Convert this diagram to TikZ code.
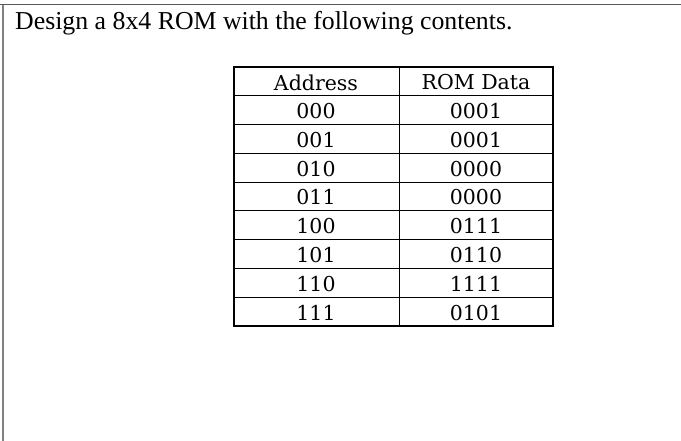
\documentclass[tikz,border=0pt]{standalone}
\usepackage{fontspec}
\setmainfont{Liberation Serif}
\newfontfamily\tabfont{DejaVu Serif}
\begin{document}
\begin{tikzpicture}[x=1pt,y=-1pt,
  cell/.style={font=\tabfont\fontsize{20.5}{20.5}\selectfont, anchor=center, inner sep=0pt},
  thick line/.style={line width=2pt},
  thin line/.style={line width=1pt}]
\useasboundingbox (0,0) rectangle (681,441);
\coordinate (tl) at (0,5);
\coordinate (tr) at (681,5);
\coordinate (lb) at (3,441);
\coordinate (lt) at (3,5);
\draw[gray!70!black, line width=1pt] (tl) -- (tr);
\draw[gray, line width=1.2pt] (lt) -- (lb);
\node[anchor=base west, inner sep=0pt, font=\fontsize{25.8}{25.8}\selectfont] (title) at (15,30) {Design a 8x4 ROM with the following contents.};
% table
\def\L{234}\def\M{399}\def\R{553}\def\T{67}\def\H{28.78}
\foreach \i in {1,...,8} {
  \draw[thin line] (\L,\T+\i*\H) -- (\R,\T+\i*\H);
}
\draw[thin line] (\M,\T) -- (\M,\T+9*\H);
\draw[thick line] (\L,\T) rectangle (\R,\T+9*\H);
\foreach \a/\d [count=\k from 0] in {Address/ROM Data,000/0001,001/0001,010/0000,011/0000,100/0111,101/0110,110/1111,111/0101} {
  \node[cell] (a\k) at (316,\T+\k*\H+\H/2+1) {\a};
  \node[cell] (d\k) at (476,\T+\k*\H+\H/2+1) {\d};
}
\end{tikzpicture}
\end{document}
